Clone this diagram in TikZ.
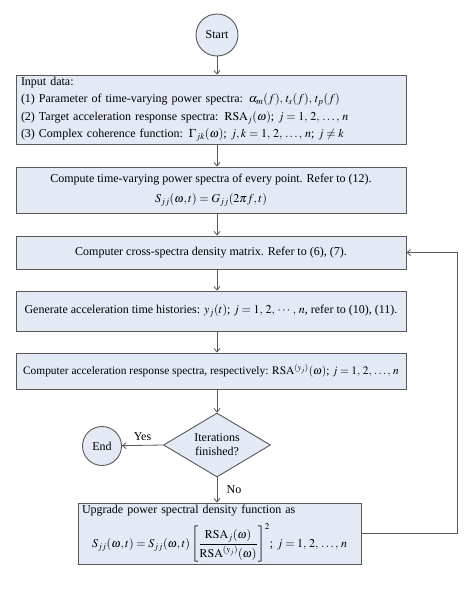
\documentclass[tikz,border=0pt]{standalone}
\usepackage{amsmath}
\usepackage{mathptmx}
\usepackage{fontspec}
\setmainfont{Liberation Serif}
\usetikzlibrary{arrows.meta,shapes.geometric}

\definecolor{boxfill}{RGB}{227,234,245}
\definecolor{edge}{RGB}{88,88,88}

\begin{document}
\begin{tikzpicture}[
  x=1pt,y=-1pt,
  >={Straight Barb[length=3.5pt,width=6pt]},
  font=\fontsize{12}{14}\selectfont,
  box/.style={draw=edge, fill=boxfill, line width=0.9pt, inner sep=0pt, align=center},
  term/.style={circle, draw=edge, fill=boxfill, line width=0.9pt, inner sep=0pt},
  decision/.style={diamond, draw=edge, fill=boxfill, line width=0.9pt, inner sep=0pt,
    aspect=1.67, align=center},
  flow/.style={->, draw=edge, line width=0.8pt},
  lbl/.style={font=\fontsize{12}{14}\selectfont}
]
\path[use as bounding box] (0,0) rectangle (474,594);

% Terminals
\node[term, minimum size=42pt] (start) at (217,35) {Start};
\node[term, minimum size=39pt] (end) at (102,446) {End};

% Main column of process boxes
\node[box, minimum width=390pt, minimum height=69pt, text width=380pt, align=left,
  font=\fontsize{12}{17.4}\selectfont] (input) at (211,109.5)
  {Input data:\\
   (1) Parameter of time-varying power spectra: $\alpha_m(f),\, t_s(f),\, t_p(f)$\\
   (2) Target acceleration response spectra: $\mathrm{RSA}_j(\omega)$; $j=1,\,2,\,\ldots,\,n$\\
   (3) Complex coherence function: $\Gamma_{jk}(\omega)$; $j,k=1,\,2,\,\ldots,\,n$; $j\neq k$};
\node[box, minimum width=390pt, minimum height=46pt, font=\fontsize{12}{20}\selectfont]
  (spectra) at (211,190)
  {Compute time-varying power spectra of every point. Refer to (12).\\
   $S_{jj}(\omega,t)=G_{jj}(2\pi f,t)$};
\node[box, minimum width=390pt, minimum height=33pt] (cross) at (211,252.5)
  {Computer cross-spectra density matrix. Refer to (6), (7).};
\node[box, minimum width=390pt, minimum height=40pt] (hist) at (211,311)
  {Generate acceleration time histories: $y_j(t)$; $j=1,\,2,\,\cdots,\,n$, refer to (10), (11).};
\node[box, minimum width=390pt, minimum height=36pt, font=\fontsize{11.4}{14}\selectfont]
  (rsa) at (211,371)
  {Computer acceleration response spectra, respectively:
   $\mathrm{RSA}^{(y_j)}(\omega)$; $j=1,\,2,\,\ldots,\,n$};

% Check and update
\node[decision, minimum width=107pt, minimum height=64pt] (check) at (217,445)
  {Iterations\\finished?};
\node[box, minimum width=283pt, minimum height=61pt, text width=275pt, align=left]
  (update) at (219.5,533.5)
  {Upgrade power spectral density function as\\[7pt]
   \hspace*{10pt}$S_{jj}(\omega,t)=S_{jj}(\omega,t)\left[\dfrac{\mathrm{RSA}_j(\omega)}
   {\mathrm{RSA}^{(y_j)}(\omega)}\right]^2$; $j=1,\,2,\,\ldots,\,n$};

\coordinate (loop) at (457,0);

% Connectors
\draw[flow] (start) -- (start |- input.north);
\draw[flow] (start |- input.south) -- (start |- spectra.north);
\draw[flow] (start |- spectra.south) -- (start |- cross.north);
\draw[flow] (start |- cross.south) -- (start |- hist.north);
\draw[flow] (start |- hist.south) -- (start |- rsa.north);
\draw[flow] (start |- rsa.south) -- (check.north);
\draw[flow] (check.west) -- (end)
  node[lbl, midway, above=1pt] {Yes};
\draw[flow] (check.south) -- (check.south |- update.north)
  node[lbl, midway, right=6pt] {No};
\draw[flow] (update.east) -- (update.east -| loop) |- (cross.east);

\end{tikzpicture}
\end{document}
